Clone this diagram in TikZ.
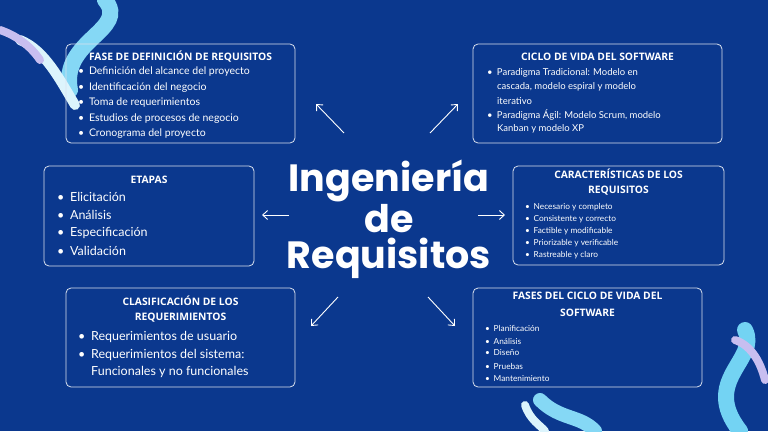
\documentclass[tikz,border=0pt]{standalone}
\usepackage{fontspec}
\setmainfont{Lato}
\newfontfamily\titlefont{Poppins}
\newfontfamily\headfont{Open Sans}
\usetikzlibrary{arrows.meta}
\definecolor{bg}{RGB}{11,56,142}
\definecolor{cy}{RGB}{80,200,240}
\definecolor{lav}{RGB}{200,190,240}
\tikzset{
  box/.style={draw=white!85!bg, line width=0.8pt, rounded corners=5pt},
  ttl/.style={text=white, font=\headfont\bfseries\fontsize{10.3}{12}\selectfont, anchor=center},
  itm/.style={text=white, anchor=west, inner sep=0pt},
  conn/.style={white, line width=0.9pt, -{Straight Barb[length=5pt,width=9pt]}},
  swirl/.style={line cap=round, line width=#1}
}
\newcommand{\bul}{\textbullet\hspace{0.45em}}
\begin{document}
\begin{tikzpicture}[x=1pt,y=-1pt]
\fill[bg] (0,0) rectangle (768,431);
\useasboundingbox (0,0) rectangle (768,431);
% decorative swirls
\draw[swirl=16pt, cy!70!white] (105,0) .. controls (130,30) and (60,40) .. (70,90);
\draw[swirl=10pt, white!80!cy] (20,40) .. controls (45,50) and (60,80) .. (75,105);
\draw[swirl=8pt, lav] (0,30) .. controls (15,35) and (30,45) .. (40,60);
\draw[swirl=16pt, cy!80!white] (745,330) .. controls (760,360) and (700,380) .. (740,431);
\draw[swirl=8pt, lav] (735,340) .. controls (750,345) and (760,360) .. (765,380);
\draw[swirl=14pt, cy!70!white] (540,400) .. controls (560,420) and (580,415) .. (595,431);
\draw[swirl=8pt, white!80!cy] (525,405) .. controls (530,420) and (540,425) .. (545,431);

% boxes
\draw[box] (66,44) rectangle (295,143) node[pos=0.5] (b1) {};
\draw[box] (473,44) rectangle (722,143) node[pos=0.5] (b2) {};
\draw[box] (44,166) rectangle (254,266) node[pos=0.5] (b3) {};
\draw[box] (513,166) rectangle (724,265) node[pos=0.5] (b4) {};
\draw[box] (66,288) rectangle (295,387) node[pos=0.5] (b5) {};
\draw[box] (473,288) rectangle (702,387) node[pos=0.5] (b6) {};

% box 1
\node[ttl] (t1) at (180.5,57) {FASE DE DEFINICIÓN DE REQUISITOS};
\begin{scope}[every node/.style={itm, font=\fontsize{10.5}{12}\selectfont}]
\node (a1) at (78,72) {\bul Definición del alcance del proyecto};
\node (a2) at (78,87.5) {\bul Identificación del negocio};
\node (a3) at (78,103) {\bul Toma de requerimientos};
\node (a4) at (78,118.5) {\bul Estudios de procesos de negocio};
\node (a5) at (78,134) {\bul Cronograma del proyecto};
\end{scope}
% box 2
\node[ttl] (t2) at (597.5,57) {CICLO DE VIDA DEL SOFTWARE};
\begin{scope}[every node/.style={itm, font=\fontsize{9.5}{12}\selectfont}]
\node (c1) at (487,73) {\bul Paradigma Tradicional: Modelo en};
\node (c2) at (497,87) {cascada, modelo espiral y modelo};
\node (c3) at (497,101) {iterativo};
\node (c4) at (487,115) {\bul Paradigma Ágil: Modelo Scrum, modelo};
\node (c5) at (497,129) {Kanban y modelo XP};
\end{scope}
% box 3
\node[ttl] (t3) at (149,180) {ETAPAS};
\begin{scope}[every node/.style={itm, font=\fontsize{12.5}{14}\selectfont}]
\node (e1) at (57,197) {\bul Elicitación};
\node (e2) at (57,215) {\bul Análisis};
\node (e3) at (57,233) {\bul Especificación};
\node (e4) at (57,251) {\bul Validación};
\end{scope}
% box 4
\node[ttl] (t4) at (618.5,174) {CARACTERÍSTICAS DE LOS};
\node[ttl] (t4b) at (618.5,191) {REQUISITOS};
\begin{scope}[every node/.style={itm, font=\fontsize{8.3}{10}\selectfont}]
\node (r1) at (525,207) {\bul Necesario y completo};
\node (r2) at (525,219) {\bul Consistente y correcto};
\node (r3) at (525,231) {\bul Factible y modificable};
\node (r4) at (525,243) {\bul Priorizable y verificable};
\node (r5) at (525,255) {\bul Rastreable y claro};
\end{scope}
% box 5
\node[ttl] (t5) at (180.5,301) {CLASIFICACIÓN DE LOS};
\node[ttl] (t5b) at (180.5,318) {REQUERIMIENTOS};
\begin{scope}[every node/.style={itm, font=\fontsize{12.5}{14}\selectfont}]
\node (q1) at (78,337) {\bul Requerimientos de usuario};
\node (q2) at (78,355) {\bul Requerimientos del sistema:};
\node (q3) at (91,372) {Funcionales y no funcionales};
\end{scope}
% box 6
\node[ttl] (t6) at (587.5,296) {FASES DEL CICLO DE VIDA DEL};
\node[ttl] (t6b) at (587.5,313) {SOFTWARE};
\begin{scope}[every node/.style={itm, font=\fontsize{8.3}{10}\selectfont}]
\node (f1) at (485,328) {\bul Planificación};
\node (f2) at (485,341) {\bul Análisis};
\node (f3) at (485,353) {\bul Diseño};
\node (f4) at (485,366) {\bul Pruebas};
\node (f5) at (485,379) {\bul Mantenimiento};
\end{scope}

% center
\begin{scope}[every node/.style={text=white, font=\titlefont\bfseries\fontsize{38}{40}\selectfont}]
\node (m1) at (389,181) {Ingeniería};
\node (m2) at (389,219) {de};
\node (m3) at (389,258) {Requisitos};
\end{scope}

% arrows
\coordinate (s1) at (344,133); \coordinate (e1a) at (316,104);
\coordinate (s2) at (430,133); \coordinate (e2a) at (458,104);
\coordinate (s3) at (289,215); \coordinate (e3a) at (262,215);
\coordinate (s4) at (478,215); \coordinate (e4a) at (505,215);
\coordinate (s5) at (338,297); \coordinate (e5a) at (311,326);
\coordinate (s6) at (428,297); \coordinate (e6a) at (455,326);
\draw[conn] (s1) -- (e1a);
\draw[conn] (s2) -- (e2a);
\draw[conn] (s3) -- (e3a);
\draw[conn] (s4) -- (e4a);
\draw[conn] (s5) -- (e5a);
\draw[conn] (s6) -- (e6a);
\end{tikzpicture}
\end{document}
